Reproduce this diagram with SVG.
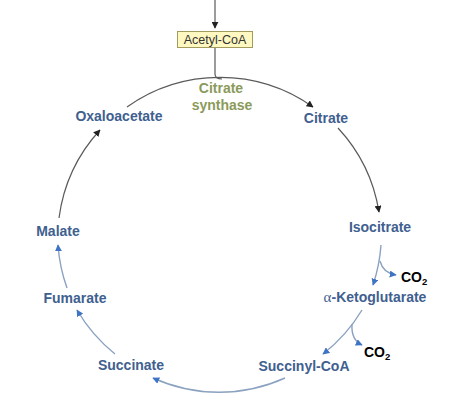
<svg xmlns="http://www.w3.org/2000/svg" width="474" height="405" viewBox="0 0 474 405">
<style>
.lbl{font-family:"Liberation Sans",Arial,sans-serif;font-weight:bold;font-size:14px;fill:#40608f;text-anchor:middle}
.enz{font-family:"Liberation Sans",Arial,sans-serif;font-weight:bold;font-size:14px;fill:#8b9a5b;text-anchor:middle}
.co2{font-family:"Liberation Sans",Arial,sans-serif;font-weight:bold;font-size:14px;fill:#000}
.gray{fill:none;stroke:#5a5a5a;stroke-width:1.2}
.blue{fill:none;stroke:#8aa2c0;stroke-width:1.4}
</style>
<defs>
<marker id="ag" viewBox="0 0 10 10" refX="9" refY="5" markerWidth="7" markerHeight="7" markerUnits="userSpaceOnUse" orient="auto">
<path d="M0,0 L10,5 L0,10 z" fill="#222"/>
</marker>
<marker id="ab" viewBox="0 0 10 10" refX="9" refY="5" markerWidth="7" markerHeight="7" markerUnits="userSpaceOnUse" orient="auto">
<path d="M0,0 L10,5 L0,10 z" fill="#3f74c4"/>
</marker>
</defs>
<rect width="474" height="405" fill="#fff"/>
<g id="connectors">
<path class="gray" d="M215,0 L215,28" marker-end="url(#ag)"/>
<path class="gray" d="M215,48 L215,74 Q215,79 222,79"/>
<path class="gray" d="M127,107 A161,161 0 0 1 313,107" marker-end="url(#ag)"/>
<path class="gray" d="M338,128 A161,161 0 0 1 379,212" marker-end="url(#ag)"/>
<path class="blue" d="M381,245 A161,161 0 0 1 373,285" marker-end="url(#ab)"/>
<path class="blue" d="M380,261 Q383,273 396,275" marker-end="url(#ab)"/>
<path class="blue" d="M362,310 A161,161 0 0 1 323,354" marker-end="url(#ab)"/>
<path class="blue" d="M352,324 Q351,340 362,345" marker-end="url(#ab)"/>
<path class="blue" d="M285,378 A160,160 0 0 1 153,378" marker-end="url(#ab)"/>
<path class="blue" d="M115,354 A161,161 0 0 1 77,310" marker-end="url(#ab)"/>
<path class="blue" d="M67,288 A161,161 0 0 1 58,245" marker-end="url(#ab)"/>
<path class="gray" d="M59,218 A161,161 0 0 1 100,130" marker-end="url(#ag)"/>
</g>
<g id="acetylcoa">
<rect x="177.5" y="31.5" width="75" height="16" fill="#fff8c0" stroke="#a39a5e" stroke-width="1"/>
<text x="215" y="44" font-family="'Liberation Sans',Arial,sans-serif" font-size="12.5" fill="#333" text-anchor="middle">Acetyl-CoA</text>
</g>
<g id="citrate-synthase">
<text class="enz" x="221" y="93">Citrate</text>
<text class="enz" x="222" y="110">synthase</text>
</g>
<g id="oxaloacetate"><text class="lbl" x="119" y="121">Oxaloacetate</text></g>
<g id="citrate"><text class="lbl" x="326" y="123">Citrate</text></g>
<g id="isocitrate"><text class="lbl" x="380" y="232">Isocitrate</text></g>
<g id="co2-1"><text class="co2" x="401" y="282">CO<tspan font-size="9.5" dy="3">2</tspan></text></g>
<g id="akg"><text class="lbl" x="375" y="302"><tspan font-family="'Liberation Serif','Times New Roman',serif" font-weight="normal" font-size="15">α</tspan>-Ketoglutarate</text></g>
<g id="co2-2"><text class="co2" x="364" y="357">CO<tspan font-size="9.5" dy="3">2</tspan></text></g>
<g id="succinylcoa"><text class="lbl" x="304" y="371">Succinyl-CoA</text></g>
<g id="succinate"><text class="lbl" x="131" y="370">Succinate</text></g>
<g id="fumarate"><text class="lbl" x="75" y="303">Fumarate</text></g>
<g id="malate"><text class="lbl" x="58" y="236">Malate</text></g>
</svg>
